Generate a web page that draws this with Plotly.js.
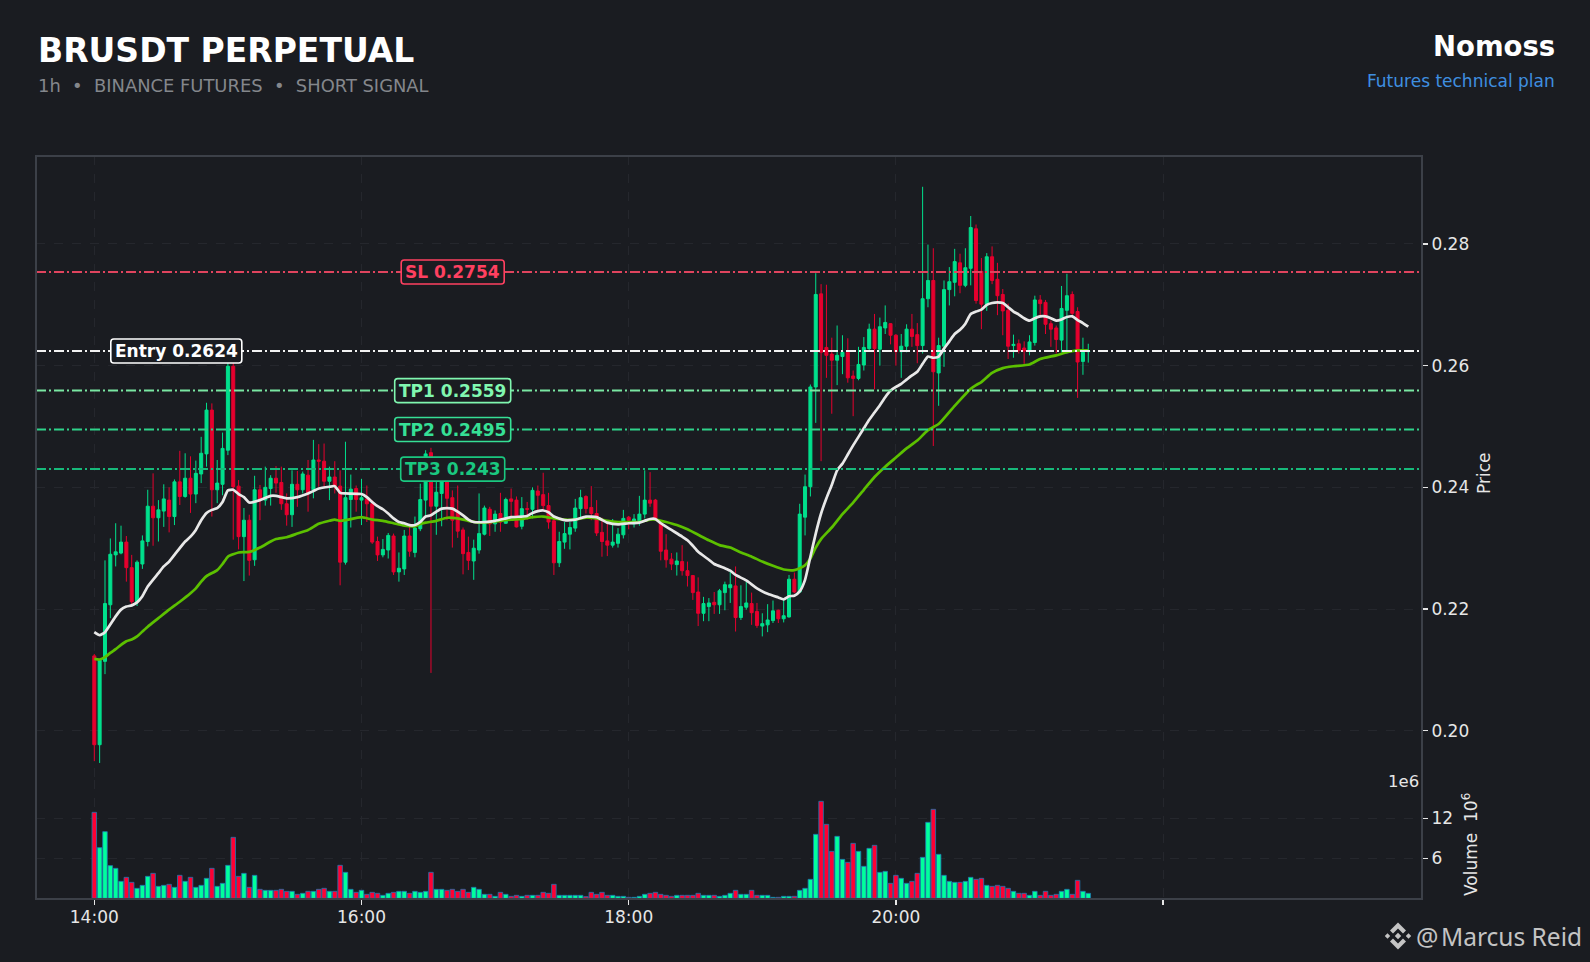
<!DOCTYPE html>
<html><head><meta charset="utf-8">
<script src="https://cdn.plot.ly/plotly-3.0.1.min.js"></script>
<style>html,body{margin:0;padding:0;background:#1a1c21;overflow:hidden}</style>
</head><body><div id="chart" style="width:1590px;height:962px"></div>
<script>
const opens=[
.2123,.1977,.2114,.2207,.2289,.2292,.2310,.2268,.2212,.2274,
.2311,.2369,.2350,.2361,.2379,.2352,.2409,.2385,.2415,.2389,
.2422,.2455,.2527,.2396,.2405,.2461,.2599,.2402,.2319,.2346,
.2281,.2396,.2379,.2398,.2415,.2408,.2373,.2355,.2405,.2396,
.2420,.2396,.2445,.2443,.2410,.2417,.2402,.2277,.2380,.2398,
.2379,.2381,.2373,.2311,.2289,.2297,.2320,.2261,.2266,.2320,
.2293,.2332,.2379,.2457,.2369,.2390,.2410,.2383,.2360,.2330,
.2293,.2279,.2297,.2323,.2364,.2340,.2357,.2341,.2381,.2379,
.2336,.2365,.2364,.2394,.2388,.2370,.2345,.2276,.2310,.2323,
.2333,.2365,.2385,.2367,.2357,.2326,.2312,.2305,.2308,.2322,
.2351,.2340,.2345,.2356,.2379,.2379,.2341,.2297,.2282,.2273,
.2278,.2263,.2255,.2228,.2193,.2204,.2211,.2207,.2227,.2235,
.2238,.2186,.2203,.2209,.2196,.2172,.2174,.2181,.2198,.2184,
.2187,.2249,.2228,.2351,.2401,.2565,.2718,.2630,.2619,.2609,
.2615,.2622,.2583,.2579,.2601,.2628,.2660,.2627,.2662,.2669,
.2650,.2623,.2632,.2660,.2651,.2633,.2710,.2740,.2588,.2632,
.2725,.2737,.2769,.2732,.2760,.2825,.2755,.2701,.2779,.2742,
.2717,.2691,.2633,.2636,.2629,.2624,.2638,.2708,.2704,.2669,
.2662,.2642,.2691,.2717,.2689,.2607,.2623];
const highs=[
.2126,.2116,.2280,.2316,.2341,.2337,.2320,.2289,.2280,.2321,
.2396,.2423,.2379,.2405,.2400,.2413,.2460,.2456,.2451,.2444,
.2483,.2539,.2538,.2445,.2490,.2624,.2610,.2412,.2366,.2355,
.2419,.2404,.2434,.2420,.2435,.2434,.2390,.2428,.2427,.2426,
.2445,.2478,.2471,.2472,.2434,.2443,.2428,.2475,.2421,.2403,
.2414,.2403,.2379,.2319,.2315,.2325,.2324,.2293,.2330,.2335,
.2352,.2406,.2461,.2465,.2409,.2422,.2420,.2395,.2403,.2334,
.2319,.2314,.2390,.2370,.2368,.2362,.2391,.2383,.2398,.2385,
.2384,.2376,.2400,.2403,.2424,.2391,.2349,.2327,.2343,.2343,
.2381,.2396,.2387,.2402,.2379,.2350,.2345,.2348,.2333,.2363,
.2353,.2356,.2386,.2428,.2425,.2381,.2346,.2323,.2292,.2293,
.2305,.2278,.2256,.2252,.2220,.2218,.2228,.2233,.2245,.2261,
.2270,.2239,.2245,.2227,.2210,.2193,.2208,.2214,.2199,.2216,
.2256,.2260,.2373,.2421,.2569,.2752,.2734,.2733,.2646,.2666,
.2650,.2645,.2592,.2631,.2647,.2669,.2685,.2679,.2699,.2670,
.2652,.2652,.2668,.2685,.2670,.2894,.2799,.2793,.2646,.2740,
.2762,.2792,.2784,.2793,.2846,.2832,.2777,.2785,.2796,.2769,
.2726,.2702,.2651,.2643,.2640,.2650,.2715,.2716,.2708,.2674,
.2666,.2731,.2751,.2722,.2696,.2646,.2636];
const lows=[
.1950,.1947,.2093,.2185,.2270,.2290,.2245,.2208,.2205,.2266,
.2303,.2304,.2311,.2335,.2326,.2338,.2371,.2383,.2358,.2374,
.2407,.2434,.2352,.2374,.2387,.2453,.2314,.2298,.2246,.2255,
.2271,.2346,.2370,.2370,.2391,.2363,.2337,.2335,.2368,.2390,
.2360,.2382,.2401,.2401,.2379,.2390,.2239,.2273,.2334,.2360,
.2338,.2343,.2307,.2279,.2285,.2283,.2256,.2245,.2256,.2286,
.2285,.2328,.2351,.2095,.2322,.2336,.2346,.2301,.2317,.2257,
.2264,.2248,.2291,.2321,.2320,.2327,.2327,.2340,.2351,.2334,
.2331,.2347,.2349,.2362,.2362,.2332,.2256,.2269,.2299,.2298,
.2327,.2349,.2357,.2346,.2320,.2286,.2287,.2301,.2301,.2316,
.2331,.2334,.2337,.2349,.2368,.2346,.2280,.2268,.2264,.2255,
.2255,.2237,.2215,.2172,.2180,.2180,.2192,.2192,.2198,.2210,
.2163,.2182,.2199,.2174,.2169,.2155,.2162,.2177,.2177,.2178,
.2186,.2226,.2226,.2321,.2385,.2506,.2443,.2580,.2521,.2568,
.2586,.2572,.2517,.2576,.2592,.2625,.2561,.2600,.2652,.2635,
.2600,.2580,.2622,.2631,.2604,.2620,.2696,.2468,.2534,.2598,
.2699,.2714,.2719,.2729,.2732,.2702,.2660,.2690,.2734,.2683,
.2650,.2611,.2613,.2620,.2603,.2617,.2633,.2680,.2652,.2631,
.2620,.2622,.2620,.2680,.2547,.2585,.2605];
const closes=[
.1977,.2116,.2209,.2290,.2294,.2310,.2268,.2212,.2277,.2312,
.2369,.2350,.2363,.2381,.2352,.2409,.2385,.2415,.2389,.2423,
.2456,.2527,.2396,.2407,.2464,.2599,.2401,.2319,.2346,.2280,
.2396,.2380,.2400,.2415,.2407,.2373,.2355,.2405,.2396,.2422,
.2391,.2445,.2443,.2410,.2417,.2402,.2277,.2383,.2397,.2380,
.2383,.2373,.2310,.2289,.2298,.2321,.2261,.2267,.2320,.2295,
.2333,.2380,.2455,.2369,.2392,.2410,.2382,.2346,.2328,.2291,
.2280,.2300,.2324,.2366,.2340,.2356,.2343,.2380,.2377,.2335,
.2365,.2364,.2395,.2387,.2370,.2343,.2276,.2311,.2324,.2334,
.2366,.2383,.2365,.2357,.2325,.2311,.2305,.2310,.2323,.2349,
.2346,.2348,.2356,.2379,.2374,.2348,.2295,.2281,.2274,.2279,
.2263,.2255,.2227,.2193,.2209,.2210,.2207,.2230,.2240,.2240,
.2186,.2204,.2210,.2194,.2173,.2176,.2182,.2197,.2184,.2189,
.2249,.2228,.2356,.2401,.2565,.2717,.2622,.2617,.2609,.2617,
.2622,.2580,.2579,.2602,.2630,.2660,.2628,.2664,.2671,.2650,
.2623,.2632,.2660,.2648,.2633,.2710,.2740,.2590,.2633,.2725,
.2738,.2771,.2732,.2761,.2827,.2707,.2701,.2779,.2740,.2715,
.2690,.2632,.2635,.2625,.2624,.2639,.2708,.2702,.2668,.2660,
.2643,.2694,.2715,.2686,.2606,.2622,.2624];
const volumesM=[
12.9,7.6,10,4.9,4.5,2.55,3.15,2.4,1.5,1.95,
3.3,3.75,1.8,1.95,2.1,1.65,3.45,2.55,3.15,1.65,
1.95,3,4.5,1.8,2.25,4.95,9.15,3.3,3.75,1.65,
3.45,1.35,1.2,1.2,1.2,1.35,1.05,1.05,.6,.75,
1.05,1.05,1.35,1.5,1.05,1.05,4.95,3.9,1.35,.9,
1.2,.6,.9,.75,.45,.75,.9,1.05,1.05,.75,
1.05,.9,1.05,3.9,1.35,1.35,1.2,1.35,1.05,1.35,
.9,1.65,1.35,.6,.6,.3,.9,.6,.3,.45,
.3,.45,.45,.45,.9,.75,2.1,.45,.45,.45,
.45,.45,.25,.9,.6,.9,.45,.45,.3,.3,
.15,.15,.3,.6,.75,.9,.6,.45,.3,.45,
.45,.45,.45,.75,.45,.45,.45,.3,.45,.75,
1.2,.6,.6,1.2,.45,.45,.45,.15,.15,.3,
.3,.3,1.2,1.5,2.85,9.6,14.55,11.1,7.05,9.3,
5.85,5.4,8.25,7.05,4.8,7.5,7.95,3.9,4.05,2.25,
3.45,3,2.25,2.55,3.75,6.15,11.4,13.35,6.6,3.45,
2.55,2.4,2.4,2.55,3.15,2.85,3,1.95,1.8,1.95,
1.8,1.5,1.05,.75,.75,.45,1.05,.45,1.05,.45,
.6,1.05,1.35,.6,2.7,1.05,.75];
const fastIdx=[0,1,2,4,5,6,7,8,9,10,12,13,14,15,17,18,19,20,21,22,23,24,25,26,27,28,29,31,33,34,36,38,40,41,42,44,45,46,47,
50,51,52,53,54,55,56,57,58,59,60,61,62,63,64,65,66,67,68,69,70,71,73,75,77,78,80,81,82,83,84,85,86,88,90,92,94,
96,98,100,102,103,104,105,106,108,110,111,112,113,115,116,118,119,120,122,124,126,128,129,130,131,132,133,134,135,136,137,138,139,
140,141,142,143,144,145,146,147,148,149,150,151,152,153,154,155,156,157,158,159,160,161,162,163,164,165,166,167,168,169,170,171,172,173,174,175,176,177,178,179,180,181,182,183,184,185,186];
const fastEma=[.2162,.2157,.2162,.2188,.2199,.2204,.2206,.2211,.2221,.2237,.2259,.2270,.2278,.2289,.2311,.2319,.2330,.2346,.2358,.2363,.2366,.2376,.2395,.2396,.2389,.2384,.2375,.2379,.2386,.2386,.2382,.2384,.2390,.2394,.2398,.2401,.2402,.2391,.2390,
.2389,.2384,.2376,.2369,.2364,.2357,.2349,.2343,.2341,.2338,.2338,.2343,.2352,.2354,.2360,.2365,.2366,.2365,.2360,.2354,.2347,.2343,.2343,.2345,.2349,.2351,.2352,.2353,.2358,.2361,.2362,.2359,.2352,.2346,.2347,.2352,.2351,
.2342,.2339,.2341,.2342,.2345,.2348,.2348,.2341,.2330,.2319,.2313,.2304,.2294,.2281,.2274,.2267,.2263,.2256,.2247,.2234,.2225,.2219,.2216,.2221,.2222,.2229,.2248,.2286,.2324,.2357,.2382,.2404,.2428,
.2439,.2454,.2469,.2483,.2497,.2511,.2523,.2535,.2548,.2559,.2565,.2570,.2577,.2584,.2590,.2603,.2615,.2613,.2615,.2628,.2640,.2652,.2659,.2669,.2685,.2689,.2692,.2700,.2703,.2704,.2703,.2696,.2689,.2684,.2678,.2674,.2678,.2681,.2681,.2678,.2674,.2676,.2680,.2681,.2675,.2670,.2664];
const slowIdx=[0,1,2,3,4,5,6,7,8,9,10,12,14,16,18,19,20,21,23,24,25,26,27,29,31,33,34,36,38,40,42,44,45,46,47,
50,52,54,56,58,60,61,62,64,66,68,70,72,74,76,78,80,82,84,86,88,90,92,94,
96,98,100,102,104,105,107,109,111,113,115,117,119,121,123,125,127,129,131,132,133,134,135,136,138,140,
142,144,146,148,150,152,154,156,158,161,163,164,165,166,168,170,172,175,177,180,182,184,186];
const slowEma=[.2118,.2117,.2121,.2128,.2134,.2141,.2147,.2150,.2155,.2163,.2171,.2185,.2199,.2212,.2226,.2234,.2245,.2254,.2264,.2274,.2286,.2290,.2293,.2294,.2301,.2311,.2315,.2318,.2324,.2330,.2340,.2345,.2347,.2345,.2346,
.2351,.2347,.2345,.2341,.2337,.2336,.2340,.2342,.2345,.2350,.2349,.2345,.2342,.2343,.2345,.2347,.2348,.2351,.2352,.2349,.2347,.2347,.2350,.2349,
.2345,.2343,.2343,.2343,.2347,.2347,.2343,.2338,.2331,.2322,.2313,.2305,.2301,.2293,.2286,.2278,.2271,.2265,.2264,.2267,.2272,.2283,.2301,.2315,.2334,.2356,
.2375,.2396,.2417,.2434,.2449,.2464,.2477,.2494,.2504,.2534,.2553,.2562,.2568,.2573,.2588,.2596,.2599,.2602,.2611,.2617,.2622,.2625,.2625];
const levelNames=["SL","Entry","TP1","TP2","TP3"];
const levelPrices=[0.2754,0.2624,0.2559,0.2495,0.243];
const levelLineColors=["#e0445e","#f2f2f2","#79e6a2","#2fd28a","#17b97a"];
const levelTextColors=["#ff4060","#ffffff","#80f7b0","#36e096","#1ac880"];
const tickHours=[14,16,18,20,22];
const tickLabels=["14:00","16:00","18:00","20:00",""];
const priceTicks=[0.20,0.22,0.24,0.26,0.28];
const volumeTicks=[6,12];

if(![opens,highs,lows,closes,volumesM].every(a=>a.length===187)||fastIdx.length!==fastEma.length||slowIdx.length!==slowEma.length)
  throw new Error("length mismatch");

const L=36,T=156,R=1422,B=899,W=1590,H=962;
const X0=94.3,PPH=133.6;
const px=x=>(x-L)/(R-L), py=y=>1-(y-T)/(B-T);
const hourOf=i=>14+i/25;
const xPos=opens.map((_,i)=>hourOf(i));
const hToPxInv=x=>14+(x-X0)/PPH;
const split=py(780);

const candle={type:'candlestick',x:xPos,open:opens,high:highs,low:lows,close:closes,xaxis:'x',yaxis:'y',
  increasing:{line:{color:'#00E08C',width:1},fillcolor:'#00E08C'},
  decreasing:{line:{color:'#E6002E',width:1},fillcolor:'#E6002E'},
  hoverinfo:'skip',showlegend:false};
const fast={type:'scatter',mode:'lines',x:fastIdx.map(hourOf),y:fastEma,xaxis:'x',yaxis:'y',
  line:{color:'#e8e8e8',width:2.7,shape:'spline',smoothing:0.5},hoverinfo:'skip',showlegend:false};
const slow={type:'scatter',mode:'lines',x:slowIdx.map(hourOf),y:slowEma,xaxis:'x',yaxis:'y',
  line:{color:'#5cc000',width:2.7,shape:'spline',smoothing:0.5},hoverinfo:'skip',showlegend:false};
const vols={type:'bar',x:xPos,y:volumesM,xaxis:'x',yaxis:'y2',width:0.034,
  marker:{color:closes.map((c,i)=>c>=opens[i]?'#00FF9C':'#FF0033'),line:{color:'#1f77b4',width:0.8}},
  hoverinfo:'skip',showlegend:false};

const shapes=[];
levelPrices.forEach((p,i)=>shapes.push({type:'line',xref:'paper',yref:'y',x0:0,x1:1,y0:p,y1:p,
  line:{color:levelLineColors[i],width:2,dash:'10px,3px,2px,3px'}}));
const roundBox=(hw,hh,r)=>`M ${-hw+r} ${-hh} L ${hw-r} ${-hh} Q ${hw} ${-hh} ${hw} ${-hh+r} L ${hw} ${hh-r} Q ${hw} ${hh} ${hw-r} ${hh} L ${-hw+r} ${hh} Q ${-hw} ${hh} ${-hw} ${hh-r} L ${-hw} ${-hh+r} Q ${-hw} ${-hh} ${-hw+r} ${-hh} Z`;
const boxW=[51.5,65.5,58,58,52];
const boxCx=[452.7,176.3,452.7,452.7,452.7];
const annotations=[];
levelPrices.forEach((p,i)=>{
  const cx=hToPxInv(boxCx[i]);
  shapes.push({type:'path',xref:'x',yref:'y',xsizemode:'pixel',ysizemode:'pixel',xanchor:cx,yanchor:p,
    path:roundBox(boxW[i],12,3),fillcolor:'#1a1c21',line:{color:levelLineColors[i]==='#f2f2f2'?'#ffffff':levelTextColors[i],width:1.6}});
  annotations.push({xref:'x',yref:'y',x:cx,y:p,text:`<b>${levelNames[i]} ${p}</b>`,showarrow:false,xanchor:'center',yanchor:'middle',
    font:{family:'DejaVu Sans',size:17,color:levelTextColors[i]}});
});
const txt=(x,y,text,size,color,xa,fam,extra)=>Object.assign({xref:'paper',yref:'paper',x:px(x),y:py(y),text,showarrow:false,xanchor:xa,yanchor:'middle',
  font:{family:fam||'DejaVu Sans',size,color}},extra||{});
annotations.push(txt(35.5,50,'<b>BRUSDT PERPETUAL</b>',33,'#ffffff','left'));
annotations.push(txt(35.5,86,'1h\u00a0\u00a0•\u00a0\u00a0BINANCE FUTURES\u00a0\u00a0•\u00a0\u00a0SHORT SIGNAL',17.9,'#84878c','left'));
annotations.push(txt(1557,46,'<b>Nomoss</b>',27.5,'#ffffff','right'));
annotations.push(txt(1557,81,'Futures technical plan',17,'#3f8fe0','right'));
annotations.push(txt(1421,781,'1e6',16.5,'#e6e6e6','right'));
annotations.push(txt(1484,474,'Price',17,'#e6e6e6','center','DejaVu Sans',{textangle:-90}));
annotations.push(txt(1470,845,'Volume\u00a0\u00a010<sup>6</sup>',17,'#e6e6e6','center','DejaVu Sans',{textangle:-90}));
annotations.push(txt(1413.5,936,'@',25,'#c4c4c4','left','Noto Sans'));
annotations.push(txt(1439.5,936,'Marcus Reid',24.5,'#c4c4c4','left','Noto Sans'));

shapes.push({type:'rect',xref:'paper',yref:'paper',x0:0,x1:1,y0:0,y1:1,line:{color:'#3c4048',width:2},fillcolor:'rgba(0,0,0,0)'});
const logo='M 0 -13.5 L 8 -5.5 L 5 -2.5 L 0 -7.5 L -5 -2.5 L -8 -5.5 Z M 0 13.5 L 8 5.5 L 5 2.5 L 0 7.5 L -5 2.5 L -8 5.5 Z M 0 -3.2 L 3.2 0 L 0 3.2 L -3.2 0 Z M -10.5 -2.7 L -7.8 0 L -10.5 2.7 L -13.2 0 Z M 10.5 -2.7 L 13.2 0 L 10.5 2.7 L 7.8 0 Z';
shapes.push({type:'path',xref:'paper',yref:'paper',xsizemode:'pixel',ysizemode:'pixel',xanchor:px(1398),yanchor:py(936),path:logo,fillcolor:'#c4c4c4',line:{width:0}});

const grid={showgrid:true,gridcolor:'#25272d',griddash:'dash',gridwidth:1,zeroline:false,showline:false};
const tickFont={family:'DejaVu Sans',size:17,color:'#e6e6e6'};
const layout={width:W,height:H,paper_bgcolor:'#1a1c21',plot_bgcolor:'#1a1c21',
  margin:{l:L,t:T,r:W-R,b:H-B,pad:0},showlegend:false,bargap:0,boxgap:0.2,dragmode:false,
  xaxis:Object.assign({},grid,{type:'linear',domain:[0,1],anchor:'y2',range:[14-(X0-L)/PPH,14+(R-X0)/PPH],
    tickmode:'array',tickvals:tickHours,ticktext:tickLabels,ticks:'outside',ticklen:5,tickwidth:1.2,tickcolor:'#e6e6e6',
    ticklabelstandoff:-2,tickfont:tickFont,rangeslider:{visible:false}}),
  yaxis:Object.assign({},grid,{domain:[split,1],anchor:'x',side:'right',range:[0.1919,0.29446],
    tickmode:'array',tickvals:priceTicks,ticktext:priceTicks.map(v=>v.toFixed(2)),ticks:'outside',ticklen:5,tickwidth:1.2,tickcolor:'#e6e6e6',
    tickfont:tickFont}),
  yaxis2:Object.assign({},grid,{domain:[0,split],anchor:'x',side:'right',range:[-0.1,17.75],
    tickmode:'array',tickvals:volumeTicks,ticktext:volumeTicks.map(String),ticks:'outside',ticklen:5,tickwidth:1.2,tickcolor:'#e6e6e6',
    tickfont:tickFont}),
  shapes,annotations};
Plotly.newPlot('chart',[vols,candle,slow,fast],layout,{displayModeBar:false,staticPlot:true});
</script></body></html>
